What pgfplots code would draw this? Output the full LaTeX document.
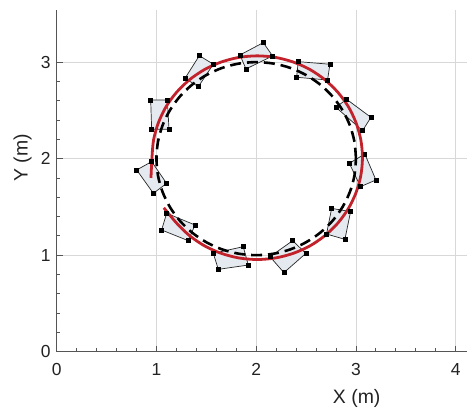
\documentclass[border=0pt]{standalone}
\usepackage{fontspec}
\setmainfont{Liberation Sans}
\usepackage{pgfplots}
\pgfplotsset{compat=1.18}
\definecolor{redline}{HTML}{C2222B}
\definecolor{carfill}{HTML}{E4EAEF}
\definecolor{axgray}{HTML}{555555}
\definecolor{gridgray}{HTML}{D8D8D8}
\definecolor{txt}{HTML}{222222}
\begin{document}
\begin{tikzpicture}
\begin{axis}[
  at={(0,0)}, anchor=south west,
  scale only axis, width=410bp, height=341.7bp,
  xmin=0, xmax=4.11, ymin=0, ymax=3.54,
  axis lines=left,
  axis line style={-, draw=axgray, line width=1.1pt},
  xtick={0,1,2,3,4}, ytick={0,1,2,3},
  minor tick num=4,
  tick style={draw=axgray, line width=0.9pt},
  major tick length=6bp, minor tick length=3.5bp,
  tick align=inside,
  grid=major,
  major grid style={draw=gridgray, line width=0.6pt},
  /pgf/number format/assume math mode=true,
  ticklabel style={font=\fontsize{17.5}{21}\selectfont, text=txt},
  xticklabel style={yshift=-8bp},
  yticklabel style={xshift=-2.5bp},
  xlabel={X (m)}, ylabel={Y (m)},
  label style={font=\fontsize{19.5}{23}\selectfont, text=txt},
  xlabel style={at={(axis description cs:0.7317,0)}, anchor=center, yshift=-46.6bp},
  ylabel style={at={(axis description cs:0,0.567)}, anchor=center, yshift=34bp},
  clip=false,
]
% vehicles
\pgfplotsset{car/.style={fill=carfill, draw=black!85, line width=0.7pt, mark=square*, mark size=2pt, mark options={fill=black, draw=black, solid}}}
\addplot[car] coordinates {(1.837,3.074) (2.071,3.202) (2.164,3.064) (1.897,2.929)} -- cycle;
\addplot[car] coordinates {(1.430,3.067) (1.570,2.978) (1.420,2.746) (1.286,2.832)} -- cycle;
\addplot[car] coordinates {(0.942,2.608) (1.109,2.608) (1.126,2.304) (0.952,2.304)} -- cycle;
\addplot[car] coordinates {(0.802,1.883) (0.952,1.969) (1.102,1.744) (0.969,1.641)} -- cycle;
\addplot[car] coordinates {(1.102,1.434) (1.386,1.313) (1.319,1.150) (1.052,1.261)} -- cycle;
\addplot[car] coordinates {(1.570,1.019) (1.870,1.088) (1.921,0.898) (1.620,0.853)} -- cycle;
\addplot[car] coordinates {(2.138,0.984) (2.365,1.150) (2.498,1.019) (2.278,0.819)} -- cycle;
\addplot[car] coordinates {(2.756,1.485) (2.946,1.451) (2.889,1.164) (2.705,1.219)} -- cycle;
\addplot[car] coordinates {(2.933,1.952) (3.089,2.048) (3.200,1.779) (3.046,1.710)} -- cycle;
\addplot[car] coordinates {(2.799,2.532) (2.906,2.615) (3.150,2.428) (3.066,2.290)} -- cycle;
\addplot[car] coordinates {(2.421,3.005) (2.739,2.978) (2.715,2.815) (2.405,2.843)} -- cycle;
% reference path (dashed)
\addplot[black, line width=2.6pt, dash pattern=on 11pt off 6pt, smooth] coordinates {
(3,2) (2.985,2.174) (2.940,2.342) (2.866,2.5) (2.766,2.643) (2.643,2.766)
(2.5,2.866) (2.342,2.940) (2.174,2.985) (2,3) (1.826,2.985) (1.658,2.940)
(1.5,2.866) (1.357,2.766) (1.234,2.643) (1.134,2.5) (1.060,2.342) (1.015,2.174)
(1,2) (1.015,1.826) (1.060,1.658) (1.134,1.5) (1.234,1.357) (1.357,1.234)
(1.5,1.134) (1.658,1.060) (1.826,1.015) (2,1) (2.174,1.015) (2.342,1.060)
(2.5,1.134) (2.643,1.234) (2.766,1.357) (2.866,1.5) (2.940,1.658) (2.985,1.826) (3,2)};
% actual path (red)
\addplot[redline, line width=2.8pt, smooth] coordinates {
(1.074,1.491) (1.202,1.332) (1.332,1.202) (1.483,1.096) (1.649,1.019) (1.827,0.971)
(2.01,0.955) (2.193,0.971) (2.371,1.019) (2.538,1.096) (2.688,1.202) (2.818,1.332)
(2.924,1.483) (3.001,1.649) (3.049,1.827) (3.065,2.01) (3.049,2.193) (3.001,2.371)
(2.924,2.538) (2.818,2.688) (2.688,2.818) (2.538,2.924) (2.371,3.001) (2.193,3.049)
(2.01,3.065) (1.827,3.049) (1.649,3.001) (1.483,2.924) (1.332,2.818) (1.202,2.688)
(1.096,2.538) (1.019,2.371) (0.971,2.193) (0.955,2.01) (0.945,1.80)};
\end{axis}
\pgfresetboundingbox
\path[use as bounding box] (-56.7bp,-63.3bp) rectangle (417.3bp,351.7bp);
\end{tikzpicture}
\end{document}
